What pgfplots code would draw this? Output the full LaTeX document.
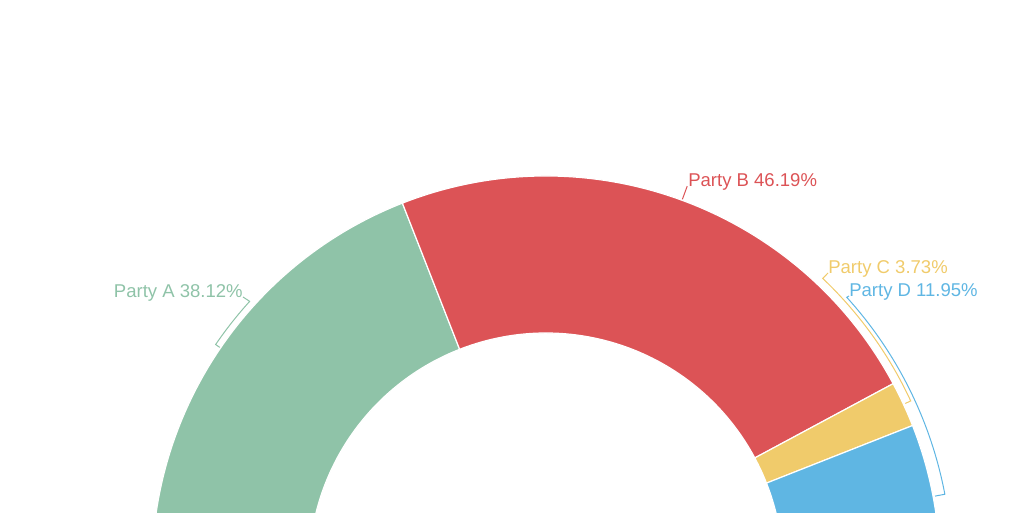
\documentclass[border=0pt]{standalone}
\usepackage{pgfplots}
\pgfplotsset{compat=1.18}
\usepackage{pgfplotstable}
\usepackage{fontspec}
\setmainfont{Liberation Sans}

\definecolor{pA}{HTML}{8FC3A8}
\definecolor{pB}{HTML}{DC5356}
\definecolor{pC}{HTML}{F0CB6B}
\definecolor{pD}{HTML}{5FB6E3}

% vote shares (percent)
\pgfplotstableread{
party value
A 38.12
B 46.19
C 3.73
D 11.95
}\votes

\pgfplotstablegetelem{0}{value}\of\votes \let\vA\pgfplotsretval
\pgfplotstablegetelem{1}{value}\of\votes \let\vB\pgfplotsretval
\pgfplotstablegetelem{2}{value}\of\votes \let\vC\pgfplotsretval
\pgfplotstablegetelem{3}{value}\of\votes \let\vD\pgfplotsretval

% half donut: 180 deg -> 0 deg
\pgfmathsetmacro\total{\vA+\vB+\vC+\vD}
\pgfmathsetmacro\aA{180}
\pgfmathsetmacro\aB{\aA-180*\vA/\total}
\pgfmathsetmacro\aC{\aB-180*\vB/\total}
\pgfmathsetmacro\aD{\aC-180*\vC/\total}
\pgfmathsetmacro\aE{0}
\pgfmathsetmacro\mA{(\aA+\aB)/2}
\pgfmathsetmacro\mB{(\aB+\aC)/2}
\pgfmathsetmacro\mC{(\aC+\aD)/2}
\pgfmathsetmacro\mD{(\aD+\aE)/2}

% centre (546,-58), outer radius 394, inner radius 237 (axis units, 0.75pt each)
\newcommand\slice[3]{%
  \fill[#3, draw=white, line width=0.9pt]
    (axis cs:{546+394*cos(#1)},{-58+394*sin(#1)})
    arc[start angle=#1, end angle=#2, radius=295.5pt]
    -- (axis cs:{546+237*cos(#2)},{-58+237*sin(#2)})
    arc[start angle=#2, end angle=#1, radius=177.75pt] -- cycle;
}
\newcommand\pt[2]{(axis cs:{546+#1*cos(#2)},{-58+#1*sin(#2)})}
\tikzset{lbl/.style={font=\fontsize{13.9}{16}\selectfont, inner sep=0pt}}

\begin{document}
\begin{tikzpicture}
\begin{axis}[
    scale only axis,
    width=768pt, height=384pt,
    xmin=0, xmax=1024, ymin=0, ymax=512,
    hide axis,
    clip=true,
]
\path (rel axis cs:0,0) rectangle (rel axis cs:1,1);
\slice{\aA}{\aB}{pA}
\slice{\aB}{\aC}{pB}
\slice{\aC}{\aD}{pC}
\slice{\aD}{\aE}{pD}

% leaders
\draw[pA, line width=0.75pt] \pt{395}{\mA} -- \pt{400}{\mA}
    arc[start angle=\mA, end angle=137.8, radius=300pt] -- (axis cs:243,215);
\draw[pB, line width=0.75pt] \pt{395}{\mB} -- \pt{409}{\mB};
\draw[pC, line width=0.75pt] \pt{396}{\mC} -- \pt{402}{\mC}
    arc[start angle=\mC, end angle=46.5, radius=301.5pt] -- (axis cs:828,239);
\draw[pD, line width=0.75pt] \pt{396}{\mD} -- \pt{406}{\mD}
    arc[start angle=\mD, end angle=42.2, radius=304.5pt] -- (axis cs:849,216);

% labels
\node[lbl, pA, anchor=base east] at (axis cs:243,215) {Party A 38.12\%};
\node[lbl, pB, anchor=base west] at (axis cs:688,326) {Party B 46.19\%};
\node[lbl, pC, anchor=base west] at (axis cs:828,239) {Party C 3.73\%};
\node[lbl, pD, anchor=base west] at (axis cs:849,216) {Party D 11.95\%};
\end{axis}
\end{tikzpicture}
\end{document}
